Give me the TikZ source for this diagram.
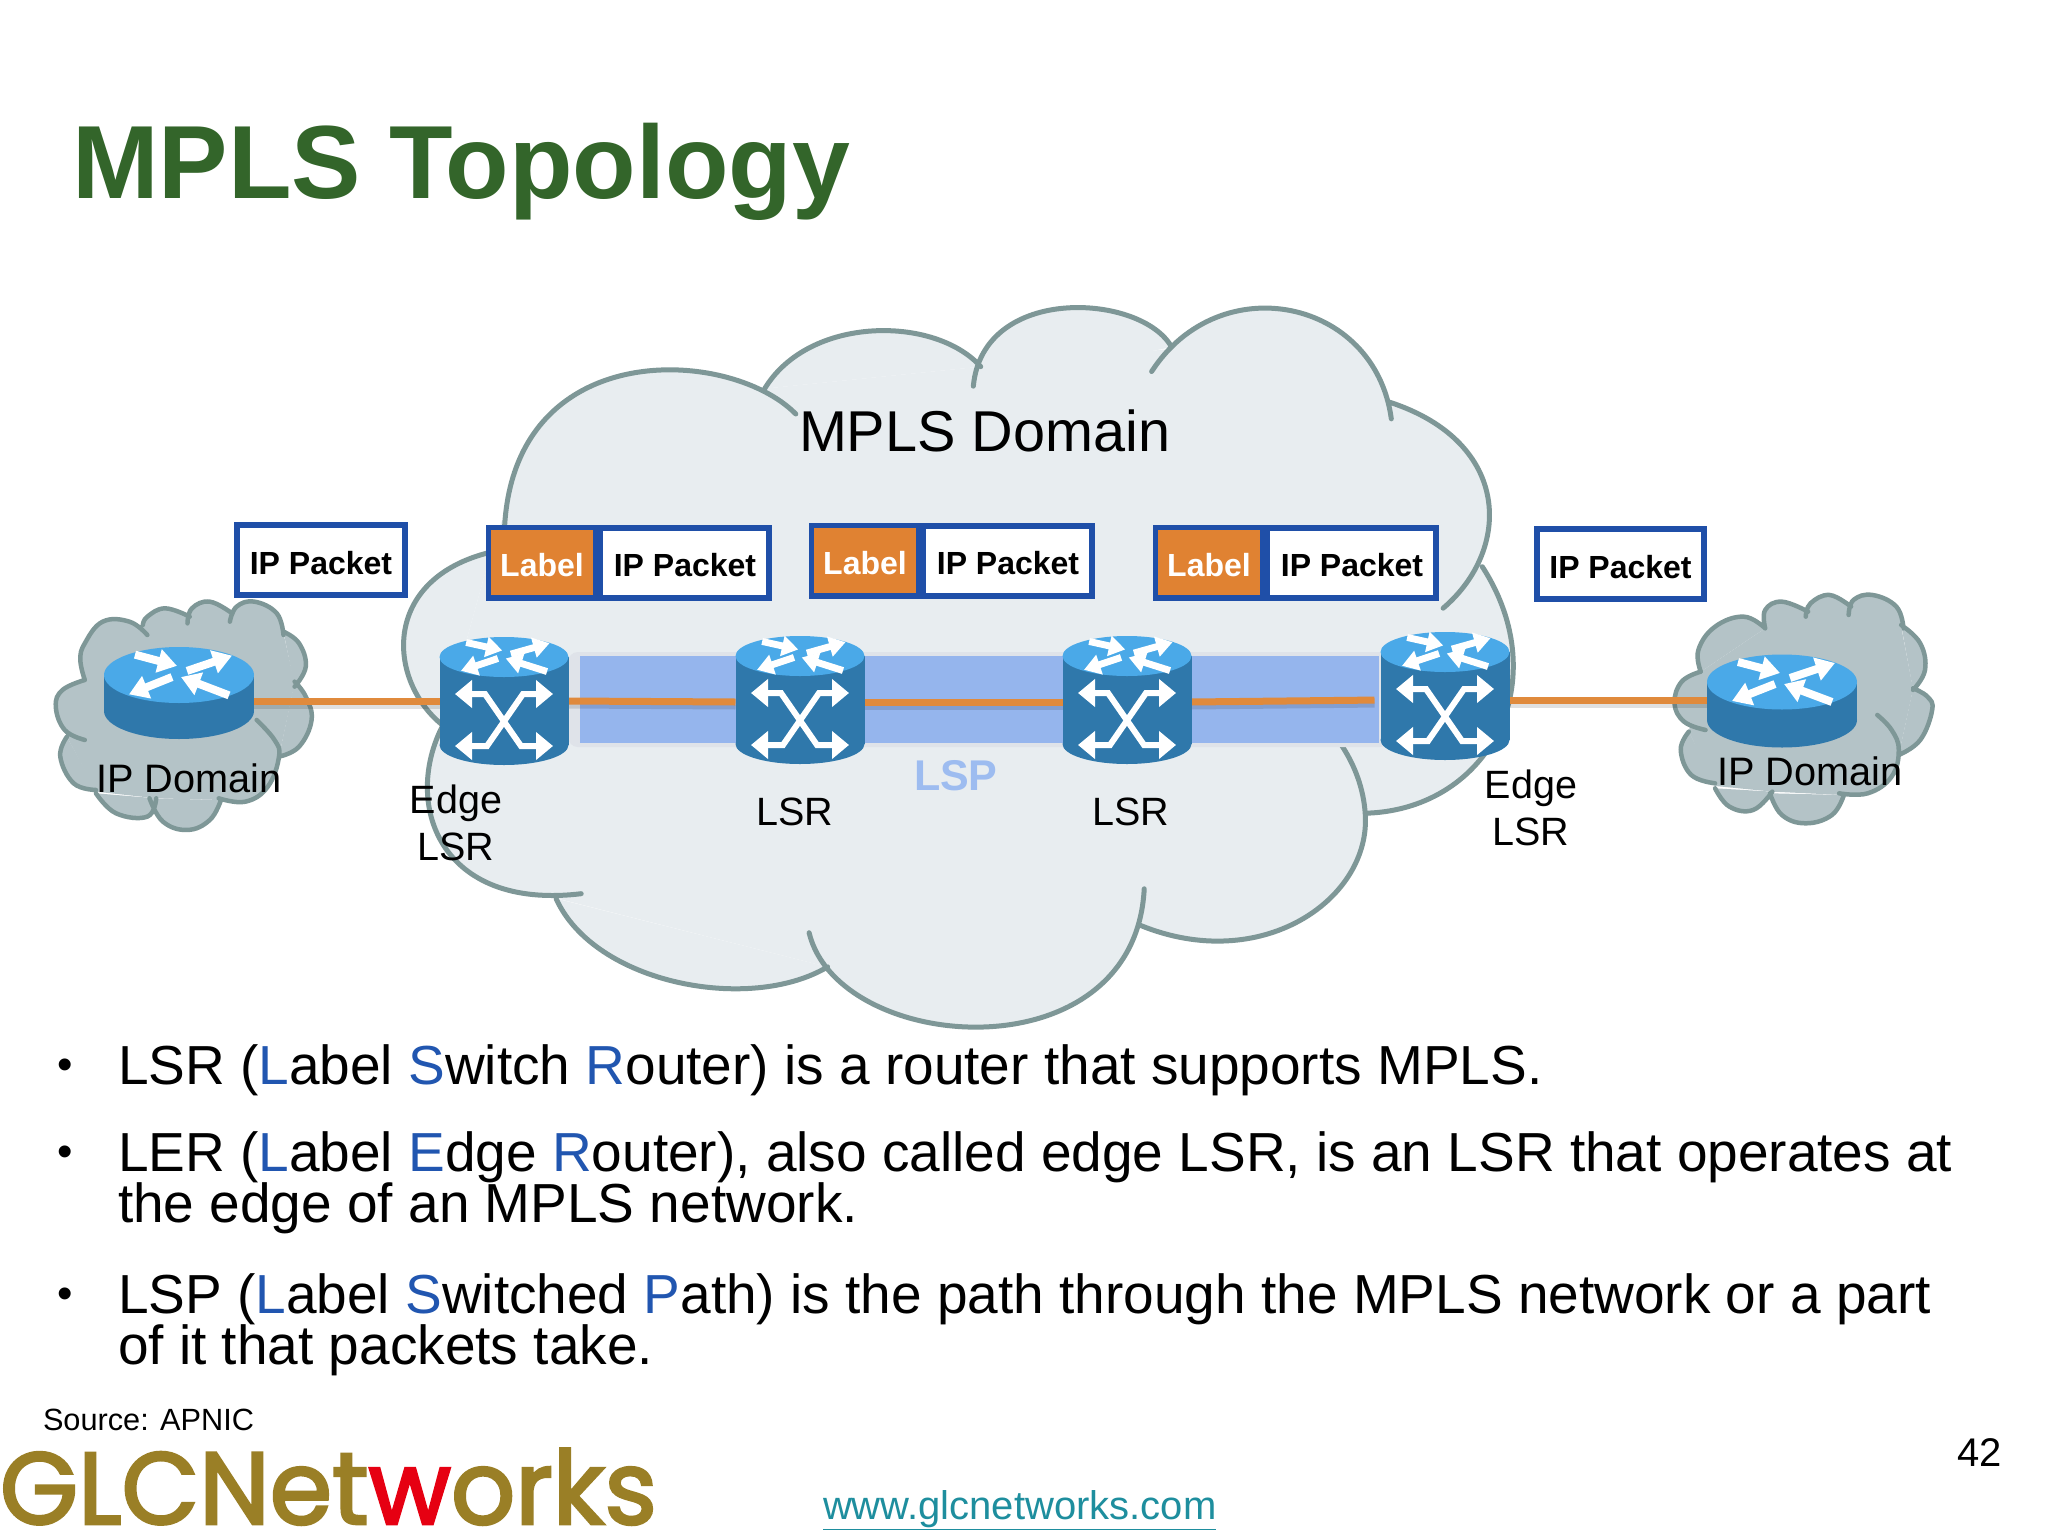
\documentclass[tikz,border=0pt]{standalone}
\usepackage{fontspec}
\setmainfont{Liberation Sans}
\newfontfamily\logofont[FakeBold=2.6,FakeStretch=.985]{Poppins}
\usetikzlibrary{arrows.meta}
\definecolor{titlegreen}{HTML}{33652A}
\definecolor{cloudfill}{HTML}{E8EDF0}
\definecolor{cloudline}{HTML}{7E9797}
\definecolor{smallfill}{HTML}{B4C3C7}
\definecolor{routerbody}{HTML}{2F78AB}
\definecolor{routertop}{HTML}{4AA9E8}
\definecolor{linkorange}{HTML}{E08A3C}
\definecolor{boxblue}{HTML}{1F4FA8}
\definecolor{labelorange}{HTML}{E08232}
\definecolor{tubeblue}{HTML}{8FB2EE}
\definecolor{tubeedge}{HTML}{DFE3E9}
\definecolor{lspblue}{HTML}{9DBCF0}
\definecolor{ltblue}{HTML}{2156B0}
\definecolor{urlteal}{HTML}{1E8E9E}
\definecolor{logogold}{HTML}{9A7F26}
\definecolor{logored}{HTML}{E60012}
\newcommand\fs[1]{\fontsize{#1}{#1}\selectfont}
\newcommand\bl[1]{\textcolor{ltblue}{#1}}
\newcommand\lobe[1]{plot[smooth,tension=.7] coordinates {#1}}
\newcommand\mainlobes{%
 (562,252) .. controls (470,110) and (160,90) .. (168,530)
 (150,535) .. controls (0,590) and (10,800) .. (85,890)
 (85,890) .. controls (30,1050) and (80,1270) .. (272,1235)
 (238,1245) .. controls (290,1420) and (500,1480) .. (605,1385)
 (580,1315) .. controls (620,1565) and (1020,1610) .. (1033,1225)
 (1028,1300) .. controls (1190,1400) and (1335,1250) .. (1332,1080) .. controls (1330,980) and (1290,880) .. (1220,820)
 (1335,1070) .. controls (1500,1060) and (1590,800) .. (1490,565)
 (1437,650) .. controls (1530,530) and (1530,310) .. (1365,228)
 (1367,262) .. controls (1345,15) and (1135,-50) .. (1043,165)
 (1070,115) .. controls (1030,5) and (815,-15) .. (802,195)
 (812,155) .. controls (750,50) and (580,50) .. (520,200)
}
\newcommand\leftlobes{%
 \lobe{(190,540)(140,570)(125,620)(145,690)(190,720)}
 \lobe{(150,710)(135,770)(165,850)(215,870)}
 \lobe{(215,880)(260,940)(330,950)(350,895)}
 \lobe{(335,895)(365,965)(420,990)(470,960)(495,900)}
 \lobe{(490,895)(550,905)(600,860)(625,770)(615,720)(575,660)}
 \lobe{(625,770)(670,740)(698,660)(685,590)(660,545)}
 \lobe{(660,560)(685,500)(670,430)(635,395)}
 \lobe{(635,405)(620,340)(570,305)(530,320)(515,365)}
 \lobe{(520,340)(470,305)(430,325)(420,370)}
 \lobe{(425,350)(370,325)(330,350)(320,375)}
 \lobe{(330,405)(290,365)(230,365)(190,430)(180,480)(190,540)}
}
\newcommand\rightlobes{%
 \lobe{(840,515)(800,545)(785,610)(805,665)(850,690)}
 \lobe{(815,695)(798,750)(820,825)(870,850)}
 \lobe{(870,865)(900,920)(950,930)(990,875)}
 \lobe{(985,880)(1010,945)(1060,970)(1115,945)(1140,885)}
 \lobe{(1130,880)(1190,880)(1240,830)(1255,750)(1240,690)(1210,645)}
 \lobe{(1255,765)(1300,720)(1325,630)(1315,590)(1285,565)}
 \lobe{(1285,570)(1310,510)(1300,430)(1260,375)}
 \lobe{(1265,385)(1250,320)(1200,285)(1160,300)(1150,345)}
 \lobe{(1155,320)(1110,285)(1070,310)(1060,350)}
 \lobe{(1065,335)(1010,305)(975,330)(975,385)}
 \lobe{(975,385)(930,350)(870,380)(835,450)(840,515)}
}
% cx cy rx ry bodyheight
\newcommand\routericon[5]{%
 \pgfmathsetmacro\rsc{#3/75}\pgfmathsetmacro\rtc{#4/27.5}%
 \pgfmathsetmacro\rlw{8*\rsc}\pgfmathsetmacro\rhl{19*\rsc}\pgfmathsetmacro\rhw{23*\rsc}%
 \begin{scope}[shift={(#1,#2)}]
  \fill[routerbody] (-#3,0) rectangle (#3,#5);
  \fill[routerbody] (0,#5) ellipse[x radius=#3,y radius=#4];
  \fill[routertop] (0,0) ellipse[x radius=#3,y radius=#4];
  \begin{scope}[white,line width=\rlw pt,-{Triangle[length=\rhl pt,width=\rhw pt]}]
   \draw ({-44*\rsc},{-20*\rtc}) -- ({-2*\rsc},{-9*\rtc});
   \draw ({8*\rsc},{-4*\rtc}) -- ({53*\rsc},{-19*\rtc});
   \draw ({-7*\rsc},{2*\rtc}) -- ({-50*\rsc},{19*\rtc});
   \draw ({50*\rsc},{20*\rtc}) -- ({2*\rsc},{2*\rtc});
  \end{scope}
 \end{scope}}
\newcommand\switchicon[2]{%
 \routericon{#1}{#2}{64.5}{20}{88}%
 \begin{scope}[shift={(#1,#2)},white,line width=6pt,{Triangle[length=17pt,width=27pt]}-{Triangle[length=17pt,width=27pt]}]
  \draw (-49,37) -- (-19,37) -- (17,89) -- (49,89);
  \draw (49,37) -- (19,37) -- (-17,89) -- (-49,89);
 \end{scope}}
\tikzset{
 x=1pt,y=-1pt,
 txt/.style={inner sep=0pt,outer sep=0pt,anchor=base west,text=black},
 ctxt/.style={inner sep=0pt,outer sep=0pt,anchor=base,text=black,font=\fs{39.5}},
 endpoint/.style={inner sep=0pt,outer sep=0pt,minimum height=1pt,draw=none},
 link/.style={draw=linkorange,line width=7pt},
 linkshadow/.style={draw=black,opacity=.12,line width=5pt},
 cloudmain/.style={draw=cloudline,line width=5pt,line cap=round,line join=round},
 cloudsmall/.style={draw=cloudline,line width=4.5pt,line cap=round,line join=round},
 boxframe/.style={draw=boxblue,fill=white,line width=6pt,inner sep=0pt,outer sep=0pt,minimum height=70pt},
 labelfill/.style={fill=labelorange,inner sep=0pt,outer sep=0pt,minimum height=65pt,minimum width=102pt},
 packetbox/.style={boxframe,minimum width=168pt},
 packettext/.style={inner sep=0pt,outer sep=0pt,anchor=center,font=\fs{32}\bfseries,text=black},
 bullettext/.style={txt,font=\fs{55}},
}
\begin{document}
\begin{tikzpicture}
\useasboundingbox (0,0) rectangle (2048,1536);
\fill[white] (0,0) rectangle (2048,1536);
% clouds
\begin{scope}[shift={(380,291)},x=.7398pt,y=-.488pt]
 \fill[cloudfill] (165,470) -- (150,535) -- (85,890) -- (240,1245) -- (605,1385) -- (1033,1300) -- (1335,1080) -- (1490,565) -- (1365,228) -- (1060,120) -- (812,155) -- (520,200) -- cycle;
 \fill[cloudfill] \mainlobes;
 \draw[cloudmain] \mainlobes;
\end{scope}
\begin{scope}[shift={(0,500)},x=.4464pt,y=-.3333pt]
 \fill[smallfill] (190,540) -- (150,710) -- (215,875) -- (350,895) -- (495,900) -- (625,770) -- (660,550) -- (635,400) -- (520,335) -- (425,345) -- (325,370) -- cycle;
 \fill[smallfill] \leftlobes;
 \draw[cloudsmall] \leftlobes;
\end{scope}
\begin{scope}[shift={(1300,500)},x=.4771pt,y=-.3333pt]
 \fill[smallfill] (840,515) -- (815,695) -- (870,858) -- (990,875) -- (1135,885) -- (1255,765) -- (1285,567) -- (1260,380) -- (1155,315) -- (1065,325) -- (975,385) -- cycle;
 \fill[smallfill] \rightlobes;
 \draw[cloudsmall] \rightlobes;
\end{scope}
% LSP tube
\fill[tubeedge,rounded corners=10pt] (568,652) rectangle (1390,747);
\fill[tubeblue,opacity=.92] (580,656) rectangle (1379,743);
% end points of the links
\node[endpoint,minimum width=150pt] (ipleft) at (179,701) {};
\node[endpoint,minimum width=129pt] (edgeleft) at (504,701) {};
\node[endpoint,minimum width=129pt] (lsra) at (800,702) {};
\node[endpoint,minimum width=129pt] (lsrb) at (1127,702) {};
\node[endpoint,minimum width=129pt] (edgeright) at (1445,700) {};
\node[endpoint,minimum width=150pt] (ipright) at (1782,700) {};
\foreach \a/\b/\s in {ipleft/edgeleft/0,edgeleft/lsra/0,lsra/lsrb/0,lsrb/edgeright/6,edgeright/ipright/0}{
 \draw[linkshadow,shorten >=\s pt] ([yshift=-5pt]\a.east) -- ([yshift=-5pt]\b.west);
 \draw[link,shorten >=\s pt] (\a.east) -- (\b.west);
}
% routers
\routericon{179}{675}{75}{28}{36}
\routericon{1782}{682}{75}{27.5}{38}
\switchicon{504}{657}
\switchicon{800}{656}
\switchicon{1127}{656}
\switchicon{1445}{652}
% packets
\node[packetbox,minimum width=168pt,minimum height=70pt] (p1) at (321,560) {};
\node[packettext] (p1t) at (321,563) {IP Packet};
\foreach \n/\x/\y in {p2/486/562.5,p3/809/560.5,p4/1153/562.5}{
 \node[boxframe,minimum width=280pt,anchor=west] (\n) at (\x+3,\y) {};
 \node[labelfill,anchor=west] (\n l) at (\x+5,\y) {};
 \node[packettext,text=white] (\n lt) at (\x+56,\y+3) {Label};
 \draw[boxblue,line width=10pt] (\n l.east) ++(5,-35) -- ++(0,70);
 \node[packettext] (\n t) at (\x+199,\y+3) {IP Packet};
}
\node[packetbox,minimum width=167pt,minimum height=70pt] (p5) at (1620.5,564) {};
\node[packettext] (p5t) at (1620.5,567) {IP Packet};
% texts
\node[txt,font=\fs{104}\bfseries,text=titlegreen] (title) at (72,198) {MPLS Topology};
\node[txt,font=\fs{57.6}] (domain) at (799,451) {MPLS Domain};
\node[txt,font=\fs{39.7}] (dl) at (96,792) {IP Domain};
\node[txt,font=\fs{39.7}] (dr) at (1717,785) {IP Domain};
\node[ctxt] (e1a) at (456,813) {Edge};
\node[ctxt] (e1b) at (456,860) {LSR};
\node[ctxt] (e2a) at (1531,798) {Edge};
\node[ctxt] (e2b) at (1531,845) {LSR};
\node[ctxt] (l1) at (795,825) {LSR};
\node[ctxt] (l2) at (1131,825) {LSR};
\node[txt,font=\fs{43}\bfseries,text=lspblue] (lsp) at (914,790) {LSP};
% bullets
\foreach \n/\y in {b1/1079,b2/1166,b3/1308}{\node[txt,font=\fs{44}] (\n) at (57,\y) {•};}
\node[bullettext] (t1) at (118,1084) {LSR (\bl{L}abel \bl{S}witch \bl{R}outer) is a router that supports MPLS.};
\node[bullettext] (t2) at (118,1171) {LER (\bl{L}abel \bl{E}dge \bl{R}outer), also called edge LSR, is an LSR that operates at};
\node[bullettext] (t3) at (118,1222) {the edge of an MPLS network.};
\node[bullettext] (t4) at (118,1313) {LSP (\bl{L}abel \bl{S}witched \bl{P}ath) is the path through the MPLS network or a part};
\node[bullettext] (t5) at (118,1364) {of it that packets take.};
\node[txt,font=\fs{30.7}] (src) at (43,1430) {Source: APNIC};
\node[txt,font=\fs{40}] (pg) at (1957,1466) {42};
\node[txt,font=\fs{40},text=urlteal] (url) at (823,1519) {\underline{www.glcnetworks.com}};
\node[txt,font=\logofont\fs{102},text=logogold] (logo) at (0,1524) {GLCNet\textcolor{logored}{w}orks};
\end{tikzpicture}
\end{document}
